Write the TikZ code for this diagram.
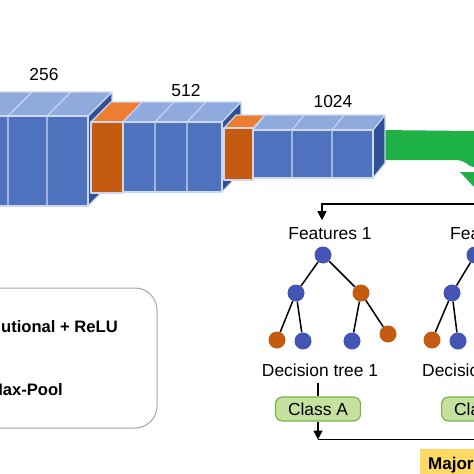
\documentclass[tikz,border=0pt]{standalone}
\usepackage{fontspec}
\setmainfont{Liberation Sans}
\usetikzlibrary{arrows.meta}
\definecolor{bfront}{RGB}{79,114,190}
\definecolor{btop}{RGB}{143,170,220}
\definecolor{bside}{RGB}{47,82,150}
\definecolor{bedge}{RGB}{205,216,238}
\definecolor{ofront}{RGB}{197,90,17}
\definecolor{otop}{RGB}{237,125,49}
\definecolor{oside}{RGB}{160,70,10}
\definecolor{garrow}{RGB}{30,178,70}
\definecolor{nblue}{RGB}{68,84,180}
\definecolor{norange}{RGB}{197,90,17}
\definecolor{cfill}{RGB}{198,224,160}
\definecolor{cdraw}{RGB}{120,180,70}
\definecolor{myellow}{RGB}{255,217,102}
\definecolor{lgray}{RGB}{165,165,165}
% x1, x2, ytop, ybot, dx, dy, front, top, side
\newcommand\mybox[9]{%
  \draw[boxedge,fill=#9] (#2,#3) -- (#2+#5,#3-#6) -- (#2+#5,#4-#6) -- (#2,#4) -- cycle;
  \draw[boxedge,fill=#8] (#1,#3) -- (#1+#5,#3-#6) -- (#2+#5,#3-#6) -- (#2,#3) -- cycle;
  \draw[boxedge,fill=#7] (#1,#3) rectangle (#2,#4);
}
\begin{document}
\begin{tikzpicture}[x=1pt,y=-1pt,
  boxedge/.style={draw=bedge,line width=1.1pt,line join=round},
  lbl/.style={font=\fontsize{17.4}{20}\selectfont,inner sep=0pt},
  lblb/.style={font=\fontsize{16.6}{20}\selectfont\bfseries,inner sep=0pt},
  tn/.style={circle,minimum size=17pt,inner sep=0pt},
  tb/.style={tn,fill=nblue},
  to/.style={tn,fill=norange},
  edge/.style={line width=1.5pt,black},
  line/.style={line width=1.3pt,black},
  arr/.style={line width=1.3pt,black,-{Triangle[length=9pt,width=9pt]}},
  cls/.style={draw=cdraw,fill=cfill,rounded corners=7pt,minimum width=85pt,
    minimum height=24pt,line width=1.2pt,inner sep=0pt,font=\fontsize{17.4}{20}\selectfont}]
\useasboundingbox (0,0) rectangle (474,474);
\clip (0,0) rectangle (474,474);

% green arrow (behind last block)
\fill[garrow] (378,130) -- (474,131) -- (474,167) -- (470,166)
  .. controls (464,161) and (460,160) .. (455,160) -- (378,160) -- cycle;
\fill[garrow] (460,172) -- (474,172) -- (474,187) -- cycle;

% block 1 (256)
\mybox{-31}{88}{116}{206}{24}{24}{bfront}{btop}{bside}
\foreach \s in {8,47} \draw[boxedge] (\s,206) -- (\s,116) -- (\s+24,92);
% pool 1
\mybox{91}{123}{122}{193}{20}{20}{ofront}{otop}{oside}
% block 2 (512)
\mybox{123}{222}{122}{192}{19}{20}{bfront}{btop}{bside}
\foreach \s in {155,187} \draw[boxedge] (\s,192) -- (\s,122) -- (\s+19,102);
% pool 2
\mybox{224}{253}{128}{180}{12}{13}{ofront}{otop}{oside}
% block 3 (1024)
\mybox{253}{373}{130}{178}{12}{15}{bfront}{btop}{bside}
\foreach \s in {292,332} \draw[boxedge] (\s,178) -- (\s,130) -- (\s+12,115);

\node[lbl] (n256) at (44,75) {256};
\node[lbl] (n512) at (186,91) {512};
\node[lbl] (n1024) at (333,102) {1024};

% legend
\draw[lgray,line width=1pt,rounded corners=22pt] (-40,288) rectangle (157,428);
\node[lblb,anchor=east] (lconv) at (118,327) {Convolutional + ReLU};
\node[lblb,anchor=east] (lpool) at (63,390) {Max-Pool};

% tree 1
\node[lbl,inner ysep=7pt] (f1) at (330,233.5) {Features 1};
\node[tb] (r1) at (323,255) {};
\node[tb] (a1) at (296,293) {};
\node[to] (b1) at (361,293) {};
\node[to] (a1l) at (277,340) {};
\node[tb] (a1r) at (303,341) {};
\node[tb] (b1l) at (352,341) {};
\node[to] (b1r) at (388,334) {};
\draw[edge] (r1) -- (a1);
\draw[edge] (r1) -- (b1);
\draw[edge] (a1) -- (a1l);
\draw[edge] (a1) -- (a1r);
\draw[edge] (b1) -- (b1l);
\draw[edge] (b1) -- (b1r);
\node[lbl,inner ysep=6pt] (dt1) at (320,370) {Decision tree 1};
\node[cls] (cA) at (318,409) {Class A};

% tree 2 (partly visible)
\node[lbl,anchor=west] (f2) at (450,233.5) {Features 2};
\node[tb] (r2) at (475,255) {};
\node[tb] (a2) at (452,293) {};
\node[to] (a2l) at (432,340) {};
\node[tb] (a2r) at (458,341) {};
\draw[edge] (r2) -- (a2);
\draw[edge] (a2) -- (a2l);
\draw[edge] (a2) -- (a2r);
\node[lbl,anchor=west] (dt2) at (422,370) {Decision tree 2};
\node[cls,anchor=west] (cB) at (441,409) {Class B};

% connectors
\coordinate (topR) at (474,204);
\draw[arr] (topR) -| ([xshift=-8pt]f1.north);
\draw[line] (cA.north |- dt1.south) -- (cA.north);
\coordinate (botR) at (474,439.5);
\draw[line] (botR) -- (cA.south |- botR);
\draw[arr] (cA.south) -- (cA.south |- botR);

% majority voting
\node[fill=myellow,anchor=north west,inner xsep=8pt,inner ysep=6pt,
  font=\fontsize{17}{20}\selectfont\bfseries,minimum height=32pt] (maj) at (420,449) {Majority voting};
\end{tikzpicture}
\end{document}
